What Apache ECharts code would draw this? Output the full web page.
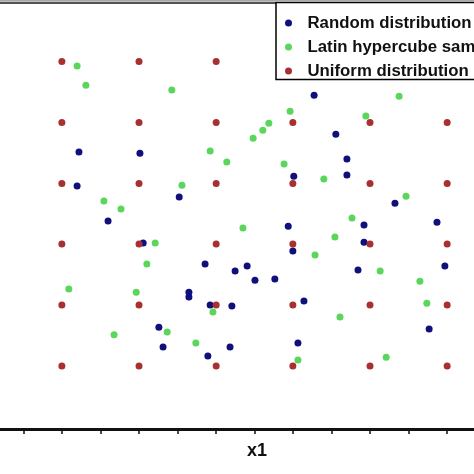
<!DOCTYPE html>
<html>
<head>
<meta charset="utf-8">
<script src="https://cdn.jsdelivr.net/npm/echarts@6/dist/echarts.min.js"></script>
<style>
  html, body { margin: 0; padding: 0; background: #fff; }
  #chart { width: 474px; height: 474px; }
</style>
</head>
<body>
<div id="chart"></div>
<script>
// ---- data (x1 and x2 on a 0..1 scale) ----
const seriesNames = ['Random distribution', 'Latin hypercube sampling', 'Uniform distribution'];

const randomX = [0.120, 0.252, 0.116, 0.337, 0.183, 0.259, 0.393, 0.484, 0.458, 0.501,
                 0.544, 0.358, 0.358, 0.404, 0.451, 0.293, 0.302, 0.447, 0.399, 0.594,
                 0.573, 0.583, 0.585, 0.629, 0.676, 0.700, 0.700, 0.804, 0.895, 0.737,
                 0.737, 0.724, 0.912, 0.607, 0.878];
const randomY = [0.669, 0.666, 0.576, 0.546, 0.480, 0.420, 0.362, 0.357, 0.343, 0.318,
                 0.321, 0.285, 0.272, 0.250, 0.247, 0.189, 0.135, 0.135, 0.110, 0.146,
                 0.466, 0.398, 0.603, 0.825, 0.718, 0.650, 0.606, 0.529, 0.477, 0.469,
                 0.422, 0.346, 0.357, 0.261, 0.184];

const lhsX = [0.116, 0.135, 0.321, 0.404, 0.440, 0.174, 0.211, 0.343, 0.285, 0.475,
              0.267, 0.244, 0.098, 0.410, 0.311, 0.196, 0.373, 0.594, 0.497, 0.518,
              0.531, 0.577, 0.564, 0.813, 0.741, 0.650, 0.828, 0.711, 0.674, 0.631,
              0.772, 0.858, 0.873, 0.685, 0.785];
const lhsY = [0.905, 0.852, 0.839, 0.672, 0.642, 0.535, 0.513, 0.578, 0.420, 0.461,
              0.362, 0.285, 0.294, 0.231, 0.176, 0.168, 0.146, 0.099, 0.707, 0.729,
              0.748, 0.781, 0.636, 0.822, 0.768, 0.595, 0.548, 0.488, 0.436, 0.387,
              0.343, 0.315, 0.255, 0.217, 0.107];

const uniformLevels = [0.083, 0.250, 0.417, 0.583, 0.750, 0.917];

// x-axis tick positions (no tick labels are visible in the picture)
const xTicks = [0, 0.0833, 0.1667, 0.25, 0.3333, 0.4167, 0.5, 0.5833, 0.6667, 0.75, 0.8333, 0.9167];

// ---- build the tables the library needs ----
const zip = (xs, ys) => xs.map((x, i) => [x, ys[i]]);
const randomData = zip(randomX, randomY);
const lhsData = zip(lhsX, lhsY);
const uniformData = [];
uniformLevels.forEach(x => uniformLevels.forEach(y => uniformData.push([x, y])));

const colors = ['#10107c', '#5ad65a', '#a83030'];
const X_MIN = -0.0509, X_MAX = 0.9751;

const chart = echarts.init(document.getElementById('chart'), null, { renderer: 'canvas' });
chart.setOption({
  animation: false,
  backgroundColor: '#ffffff',
  color: colors,
  graphic: [{
    type: 'rect', left: 0, top: 0, z: 100,
    shape: { width: 474, height: 1.8 },
    style: { fill: '#a8a8a8' }
  }],
  grid: { left: 0, right: 0, top: 2.5, bottom: 45, show: false },
  legend: {
    orient: 'vertical',
    left: 276, top: 2.5,
    data: seriesNames,
    icon: 'circle',
    itemWidth: 14, itemHeight: 7,
    itemGap: 7,
    padding: [12, 40, 0, 9],
    backgroundColor: '#ffffff',
    borderColor: '#000000', borderWidth: 1.5,
    textStyle: {
      fontFamily: 'Liberation Sans', fontWeight: 'bold', fontSize: 16.8,
      color: '#111', padding: [0, 0, 0, 7]
    },
    z: 50
  },
  xAxis: [{
    type: 'value',
    min: X_MIN, max: X_MAX,
    name: 'x1',
    nameLocation: 'middle',
    nameGap: 13,
    nameTextStyle: {
      fontFamily: 'Liberation Sans', fontWeight: 'bold', fontSize: 18,
      color: '#111', padding: [0, 0, 0, 40]
    },
    axisLine: { show: true, onZero: false, lineStyle: { color: '#111', width: 3 } },
    axisTick: { show: true, inside: false, length: 5, customValues: xTicks,
                lineStyle: { color: '#111', width: 1.5 } },
    axisLabel: { show: false },
    splitLine: { show: false }
  }, {
    type: 'value',
    position: 'top',
    min: X_MIN, max: X_MAX,
    axisLine: { show: true, onZero: false, lineStyle: { color: '#1a1a1a', width: 1.5 } },
    axisTick: { show: false },
    axisLabel: { show: false },
    splitLine: { show: false }
  }],
  yAxis: {
    type: 'value',
    min: -0.09, max: 1.079,
    axisLine: { show: false },
    axisTick: { show: false },
    axisLabel: { show: false },
    splitLine: { show: false }
  },
  series: [
    { name: seriesNames[0], type: 'scatter', data: randomData, symbolSize: 7,
      itemStyle: { color: colors[0], opacity: 1 } },
    { name: seriesNames[1], type: 'scatter', data: lhsData, symbolSize: 7,
      itemStyle: { color: colors[1], opacity: 1 } },
    { name: seriesNames[2], type: 'scatter', data: uniformData, symbolSize: 7,
      itemStyle: { color: colors[2], opacity: 1 } }
  ]
});
</script>
</body>
</html>
